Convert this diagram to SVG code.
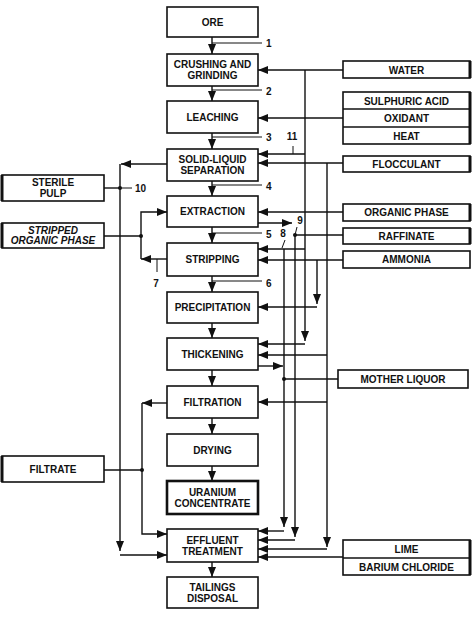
<svg xmlns="http://www.w3.org/2000/svg" width="474" height="622" viewBox="0 0 474 622">
<style>
.box{fill:#fff;stroke:#111;stroke-width:1.6}
.thick{stroke-width:2.6}
.edge{stroke:#111;stroke-width:3}
.div{stroke:#111;stroke-width:1.3}
text{font-family:"Liberation Sans",Arial,sans-serif;font-weight:bold;font-size:10px;fill:#111;text-anchor:middle}
.it{font-style:italic}
.lbl{text-anchor:start}
.c{fill:none;stroke:#111;stroke-width:1.4}
.t{fill:none;stroke:#111;stroke-width:1}
.dot{fill:#111}
</style>
<defs>
<marker id="a" markerUnits="userSpaceOnUse" markerWidth="10" markerHeight="8" refX="10" refY="4" orient="auto">
<path d="M0,0 L10,4 L0,8 z" fill="#111"/>
</marker>
</defs>
<rect width="474" height="622" fill="#fff"/>

<g id="connectors">
<!-- main column -->
<path class="c" d="M212,37 V54" marker-end="url(#a)"/>
<path class="c" d="M212,86 V101" marker-end="url(#a)"/>
<path class="c" d="M212,133 V149" marker-end="url(#a)"/>
<path class="c" d="M212,181 V196" marker-end="url(#a)"/>
<path class="c" d="M212,227 V243" marker-end="url(#a)"/>
<path class="c" d="M212,276 V292" marker-end="url(#a)"/>
<path class="c" d="M212,323 V338" marker-end="url(#a)"/>
<path class="c" d="M212,370 V386" marker-end="url(#a)"/>
<path class="c" d="M212,418 V434" marker-end="url(#a)"/>
<path class="c" d="M212,466 V481" marker-end="url(#a)"/>
<path class="c" d="M212,562 V577" marker-end="url(#a)"/>
<!-- number leaders -->
<path class="t" d="M212,43 H262 M212,90 H262 M212,137 H262 M212,185 H262 M212,233 H262 M212,281 H262"/>
<!-- left side -->
<path class="c" d="M167,164 H121" marker-end="url(#a)"/>
<path class="c" d="M120,164 V551" marker-end="url(#a)"/>
<path class="c" d="M120,555 H167" marker-end="url(#a)"/>
<path class="c" d="M104,188 H120"/>
<path class="t" d="M120,188 H132"/>
<circle class="dot" cx="120" cy="188" r="2"/>
<path class="c" d="M104,236 H141"/>
<circle class="dot" cx="141" cy="236" r="2"/>
<path class="c" d="M167,259 H141" marker-end="url(#a)"/>
<path class="c" d="M141,259 V212 H167" marker-end="url(#a)"/>
<path class="t" d="M157,259 V272"/>
<path class="c" d="M167,403 H142" marker-end="url(#a)"/>
<path class="c" d="M142,403 V534 H167" marker-end="url(#a)"/>
<path class="c" d="M104,470 H142"/>
<circle class="dot" cx="142" cy="470" r="2"/>
<!-- water -->
<path class="c" d="M343,70 H258" marker-end="url(#a)"/>
<path class="c" d="M305,70 V341" marker-end="url(#a)"/>
<path class="c" d="M305,344 H258" marker-end="url(#a)"/>
<path class="c" d="M305,154 H258" marker-end="url(#a)"/>
<path class="t" d="M293,146 V154"/>
<path class="c" d="M305,249 H258" marker-end="url(#a)"/>
<!-- leaching reagents -->
<path class="c" d="M343,118 H258" marker-end="url(#a)"/>
<!-- flocculant -->
<path class="c" d="M343,163 H258" marker-end="url(#a)"/>
<path class="c" d="M327,163 V547" marker-end="url(#a)"/>
<path class="c" d="M327,355 H258" marker-end="url(#a)"/>
<path class="c" d="M327,402 H258" marker-end="url(#a)"/>
<path class="c" d="M327,549 H258" marker-end="url(#a)"/>
<!-- organic phase -->
<path class="c" d="M343,212 H258" marker-end="url(#a)"/>
<!-- extraction output / raffinate -->
<path class="c" d="M258,223 H292" marker-end="url(#a)"/>
<path class="c" d="M343,235 H295"/>
<circle class="dot" cx="295" cy="235" r="2"/>
<path class="t" d="M295,235 L297,227"/>
<path class="c" d="M295,235 V537" marker-end="url(#a)"/>
<path class="c" d="M295,540 H258" marker-end="url(#a)"/>
<!-- line 8 -->
<path class="t" d="M285,240 L282,248"/>
<path class="c" d="M284,249 V527" marker-end="url(#a)"/>
<path class="c" d="M284,531 H258" marker-end="url(#a)"/>
<!-- ammonia -->
<path class="c" d="M343,260 H258" marker-end="url(#a)"/>
<path class="c" d="M317,260 V304" marker-end="url(#a)"/>
<path class="c" d="M317,307 H258" marker-end="url(#a)"/>
<!-- thickening output / mother liquor -->
<path class="c" d="M258,366 H283" marker-end="url(#a)"/>
<path class="c" d="M338,379 H284"/>
<circle class="dot" cx="284" cy="379" r="2"/>
<!-- lime -->
<path class="c" d="M343,557 H258" marker-end="url(#a)"/>
</g>

<g id="labels">
<text class="lbl" x="266" y="47">1</text>
<text class="lbl" x="266" y="95">2</text>
<text class="lbl" x="266" y="141">3</text>
<text class="lbl" x="266" y="190">4</text>
<text class="lbl" x="266" y="238">5</text>
<text class="lbl" x="266" y="287">6</text>
<text x="156" y="287">7</text>
<text x="283" y="237">8</text>
<text x="300" y="224">9</text>
<text class="lbl" x="135" y="192">10</text>
<text x="292" y="140">11</text>
</g>

<g id="ore"><rect class="box" x="167" y="7" width="91" height="30"/><text x="212.5" y="26">ORE</text></g>
<g id="crushing"><rect class="box" x="167" y="54" width="91" height="32"/><text x="212.5" y="68">CRUSHING AND</text><text x="212.5" y="79">GRINDING</text></g>
<g id="leaching"><rect class="box" x="167" y="101" width="91" height="32"/><text x="212.5" y="120.5">LEACHING</text></g>
<g id="separation"><rect class="box" x="167" y="149" width="91" height="32"/><text x="212.5" y="163">SOLID-LIQUID</text><text x="212.5" y="174">SEPARATION</text></g>
<g id="extraction"><rect class="box" x="167" y="196" width="91" height="31"/><text x="212.5" y="215">EXTRACTION</text></g>
<g id="stripping"><rect class="box" x="167" y="243" width="91" height="33"/><text x="212.5" y="263">STRIPPING</text></g>
<g id="precipitation"><rect class="box" x="167" y="292" width="91" height="31"/><text x="212.5" y="311">PRECIPITATION</text></g>
<g id="thickening"><rect class="box" x="167" y="338" width="91" height="32"/><text x="212.5" y="358">THICKENING</text></g>
<g id="filtration"><rect class="box" x="167" y="386" width="91" height="32"/><text x="212.5" y="406">FILTRATION</text></g>
<g id="drying"><rect class="box" x="167" y="434" width="91" height="32"/><text x="212.5" y="454">DRYING</text></g>
<g id="uranium"><rect class="box thick" x="167" y="481" width="91" height="33"/><text x="212.5" y="495.5">URANIUM</text><text x="212.5" y="506.5">CONCENTRATE</text></g>
<g id="effluent"><rect class="box" x="167" y="529" width="91" height="33"/><text x="212.5" y="543.5">EFFLUENT</text><text x="212.5" y="554.5">TREATMENT</text></g>
<g id="tailings"><rect class="box" x="167" y="577" width="91" height="31"/><text x="212.5" y="591">TAILINGS</text><text x="212.5" y="601.5">DISPOSAL</text></g>

<g id="water"><rect class="box" x="343" y="61" width="127" height="17"/><line class="edge" x1="470" y1="61" x2="470" y2="78"/><text x="406.5" y="73.5">WATER</text></g>
<g id="reagents"><rect class="box" x="343" y="92" width="127" height="52"/><line class="edge" x1="470" y1="92" x2="470" y2="144"/><line class="div" x1="343" y1="109" x2="470" y2="109"/><line class="div" x1="343" y1="127" x2="470" y2="127"/><text x="406.5" y="104.5">SULPHURIC ACID</text><text x="406.5" y="122">OXIDANT</text><text x="406.5" y="139.5">HEAT</text></g>
<g id="flocculant"><rect class="box" x="343" y="156" width="127" height="16"/><line class="edge" x1="470" y1="156" x2="470" y2="172"/><text x="406.5" y="167.5">FLOCCULANT</text></g>
<g id="organic"><rect class="box" x="343" y="204" width="127" height="17"/><line class="edge" x1="470" y1="204" x2="470" y2="221"/><text x="406.5" y="216">ORGANIC PHASE</text></g>
<g id="raffinate"><rect class="box" x="343" y="228" width="127" height="16"/><line class="edge" x1="470" y1="228" x2="470" y2="244"/><text x="406.5" y="239.5">RAFFINATE</text></g>
<g id="ammonia"><rect class="box" x="343" y="251" width="127" height="17"/><text x="406.5" y="263">AMMONIA</text></g>
<g id="motherliquor"><rect class="box" x="338" y="370" width="130" height="18"/><text x="403" y="383">MOTHER LIQUOR</text></g>
<g id="lime"><rect class="box" x="343" y="540" width="127" height="35"/><line class="edge" x1="470" y1="540" x2="470" y2="575"/><line class="div" x1="343" y1="558" x2="470" y2="558"/><text x="406.5" y="553">LIME</text><text x="406.5" y="570.5">BARIUM CHLORIDE</text></g>

<g id="sterile"><rect class="box" x="2" y="175" width="102" height="26"/><line class="edge" x1="2" y1="175" x2="2" y2="201"/><text x="53" y="186">STERILE</text><text x="53" y="197">PULP</text></g>
<g id="stripped"><rect class="box" x="2" y="223" width="102" height="25"/><line class="edge" x1="2" y1="223" x2="2" y2="248"/><text class="it" x="53" y="233.5">STRIPPED</text><text class="it" x="53" y="244">ORGANIC PHASE</text></g>
<g id="filtrate"><rect class="box" x="2" y="456" width="102" height="26"/><line class="edge" x1="2" y1="456" x2="2" y2="482"/><text x="53" y="472.5">FILTRATE</text></g>
</svg>
